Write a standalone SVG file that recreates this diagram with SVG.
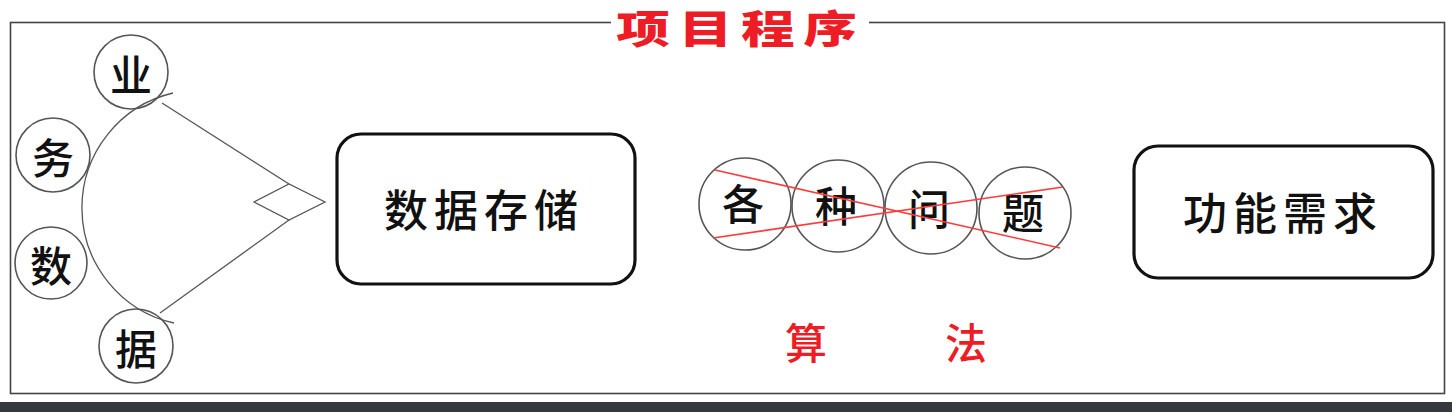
<svg xmlns="http://www.w3.org/2000/svg" width="1452" height="412" viewBox="0 0 1452 412">
<style>
.cjk{font-family:"Noto Sans CJK SC","Noto Sans CJK JP",sans-serif;}
.lbl{font-size:42px;font-weight:500;fill:#111;text-anchor:middle;dominant-baseline:central;}
.box{font-size:44px;font-weight:500;fill:#111;text-anchor:middle;dominant-baseline:central;letter-spacing:6px;}
.red{font-size:42px;font-weight:500;fill:#ee1c25;text-anchor:middle;dominant-baseline:central;}
.circ{fill:none;stroke:#555;stroke-width:1.6;}
.node{fill:#fff;stroke:#111;stroke-width:3.2;}
.conn{fill:none;stroke:#555;stroke-width:1.3;}
.cross{stroke:#ff3b3b;stroke-width:1.6;}
</style>
<rect x="0" y="0" width="1452" height="412" fill="#fff"/>
<rect x="0" y="402" width="1452" height="10" fill="#35393e"/>
<g id="frame">
<rect x="10.5" y="22.5" width="1434" height="371" fill="none" stroke="#444" stroke-width="1.6"/>
<rect x="611" y="4" width="258" height="36" fill="#fff"/>
<text class="cjk" transform="translate(741,26) scale(1.45,1.05)" style="font-size:37px;font-weight:900;fill:#ee1c25;text-anchor:middle;dominant-baseline:central;letter-spacing:6px">项目程序</text>
</g>
<g id="connectors">
<path class="conn" d="M173,93 A118,118 0 0,0 174,323"/>
<line class="conn" x1="162" y1="103" x2="289" y2="184"/>
<line class="conn" x1="160" y1="313" x2="289" y2="220"/>
<polygon class="conn" points="254,202 289,184 325,202 289,220" fill="#fff"/>
</g>
<g id="node-ye"><circle class="circ" cx="131" cy="72" r="37"/><text class="cjk lbl" x="131" y="72">业</text></g>
<g id="node-wu"><circle class="circ" cx="53" cy="155" r="37"/><text class="cjk lbl" x="53" y="155">务</text></g>
<g id="node-shu"><circle class="circ" cx="51" cy="263" r="36"/><text class="cjk lbl" x="51" y="263">数</text></g>
<g id="node-ju"><circle class="circ" cx="136" cy="346" r="37"/><text class="cjk lbl" x="136" y="346">据</text></g>
<g id="node-storage"><rect class="node" x="337" y="134" width="298" height="150" rx="24"/><text class="cjk box" x="484" y="208">数据存储</text></g>
<g id="node-func"><rect class="node" x="1134" y="146" width="299" height="132" rx="24"/><text class="cjk box" x="1283" y="211">功能需求</text></g>
<g id="node-problems">
<circle class="circ" cx="745" cy="204" r="46"/><text class="cjk lbl" x="743" y="201">各</text>
<circle class="circ" cx="838" cy="206" r="46"/><text class="cjk lbl" x="836" y="203">种</text>
<circle class="circ" cx="931" cy="208" r="46"/><text class="cjk lbl" x="929" y="206">问</text>
<circle class="circ" cx="1025" cy="213" r="46"/><text class="cjk lbl" x="1023" y="210">题</text>
<line class="cross" x1="715" y1="170" x2="1060" y2="248"/>
<line class="cross" x1="713" y1="238" x2="1063" y2="187"/>
</g>
<g id="node-algo">
<text class="cjk red" x="806" y="340">算</text>
<text class="cjk red" x="966" y="340">法</text>
</g>
</svg>
